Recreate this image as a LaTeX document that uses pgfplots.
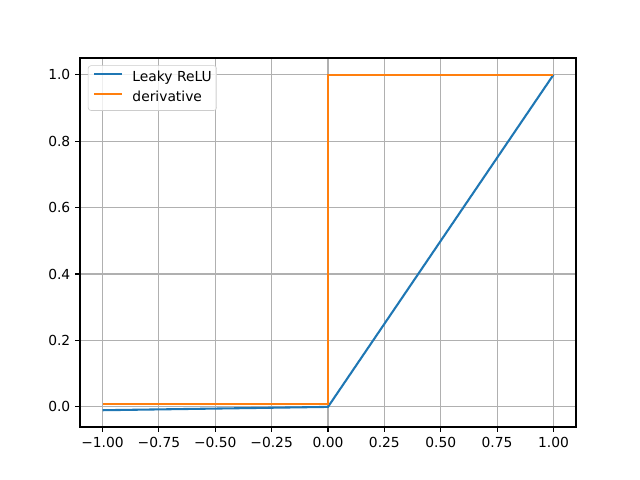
\documentclass[border=0pt]{standalone}
\usepackage{fontspec}
\setmainfont{DejaVu Sans}
\usepackage{pgfplots}
\pgfplotsset{compat=1.18}
\definecolor{mplblue}{HTML}{1F77B4}
\definecolor{mplorange}{HTML}{FF7F0E}
\definecolor{mplgrid}{HTML}{B0B0B0}
\definecolor{legedge}{HTML}{CCCCCC}

\begin{document}
\begin{tikzpicture}
\begin{axis}[
    at={(0,0)}, anchor=south west,
    scale only axis,
    width=4.96in, height=3.69in,
    xmin=-1.1, xmax=1.1,
    ymin=-0.0605, ymax=1.0505,
    xtick={-1,-0.75,-0.5,-0.25,0,0.25,0.5,0.75,1},
    xticklabels={−1.00,−0.75,−0.50,−0.25,0.00,0.25,0.50,0.75,1.00},
    ytick={0,0.2,0.4,0.6,0.8,1.0},
    yticklabels={0.0,0.2,0.4,0.6,0.8,1.0},
    xtick pos=bottom, ytick pos=left,
    tick align=outside,
    major tick length=3.5pt,
    every tick/.style={black, line width=0.8pt},
    axis line style={line width=0.8pt},
    grid=major,
    major grid style={mplgrid, line width=0.8pt},
    tick label style={font=\fontsize{10}{12}\selectfont},
    legend cell align=left,
    legend style={at={(0.016,0.98)}, anchor=north west,
        draw=legedge, rounded corners=2pt, fill=white, fill opacity=0.8,
        text opacity=1, font=\fontsize{10}{12}\selectfont,
        inner xsep=3.5pt, inner ysep=4pt, row sep=4.4pt,
        nodes={inner sep=0pt, text height=7.5pt, text depth=2.5pt},
        /tikz/every odd column/.append style={column sep=6.5pt}},
    legend image code/.code={\draw[#1] (0pt,3.2pt) -- (20.5pt,3.2pt);},
]
\addplot[mplblue, line width=1.5pt] coordinates {
    (-1,-0.01) (0,0) (1,1)
};
\addlegendentry{Leaky ReLU}
\addplot[mplorange, line width=1.5pt] coordinates {
    (-1,0.01) (0,0.01) (0,1) (1,1)
};
\addlegendentry{derivative}
\end{axis}
\path (-0.8in,-0.53in) rectangle (5.6in,4.27in);
\end{tikzpicture}
\end{document}
